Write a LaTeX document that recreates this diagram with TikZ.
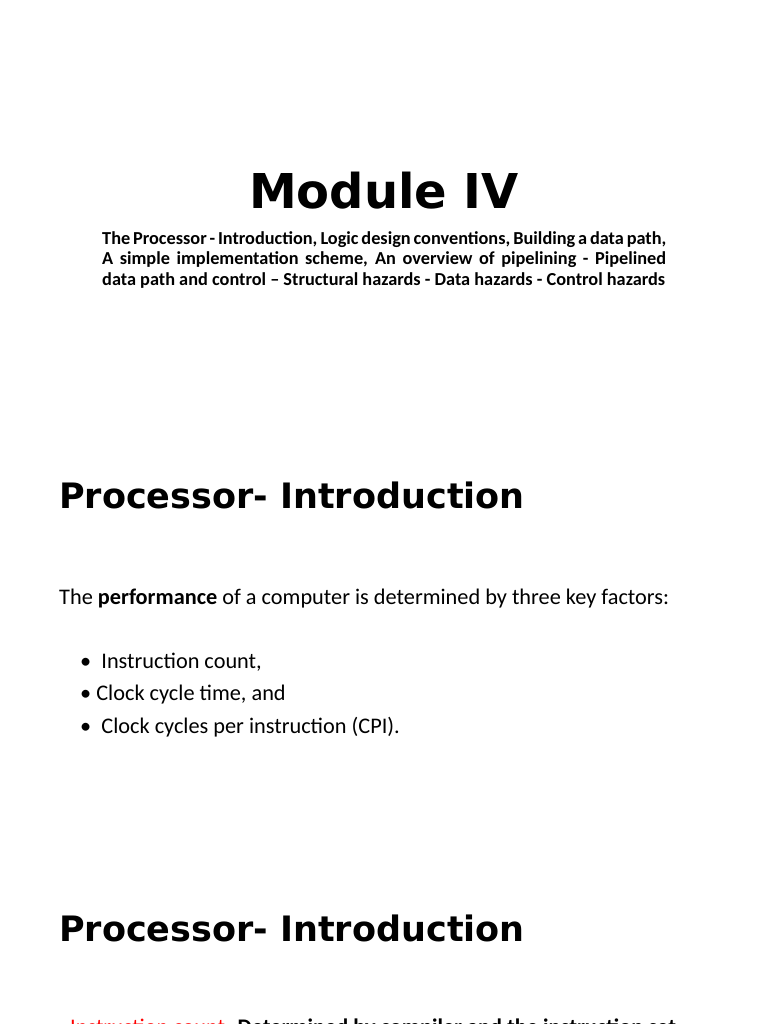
\documentclass[tikz,border=0pt]{standalone}
\usepackage{fontspec}
\setmainfont{Carlito}
\newfontfamily\dejabold{DejaVu Sans}
\begin{document}
\begin{tikzpicture}[x=1pt,y=-1pt,
  ttl/.style={anchor=base west,inner sep=0pt,font=\dejabold\bfseries\fontsize{35}{40}\selectfont},
  body/.style={anchor=base west,inner sep=0pt,font=\fontsize{22.3}{26}\selectfont}]
\fill[white] (0,0) rectangle (768,1024);
\useasboundingbox (0,0) rectangle (768,1024);
\node[anchor=base,inner sep=0pt,font=\dejabold\bfseries\fontsize{48}{56}\selectfont] (m) at (384,209) {Module IV};
\node[anchor=north west,inner sep=0pt,text width=564pt,align=justify,font=\bfseries\fontsize{18.3}{20.6}\selectfont] (p) at (102,231)
 {\hyphenpenalty=10000\exhyphenpenalty=10000 The Processor - Introduction, Logic design conventions, Building a data path, A simple implementation scheme, An overview of pipelining - Pipelined data path and control -- Structural hazards - Data hazards - Control hazards};
\node[ttl] (h1) at (59,508) {Processor- Introduction};
\node[body] (b0) at (59,604) {The \textbf{performance} of a computer is determined by three key factors:};
\node[body] (b1) at (80,668) {\textbullet\ \ Instruction count,};
\node[body] (b2) at (80,700) {\textbullet\ Clock cycle time, and};
\node[body] (b3) at (80,733) {\textbullet\ \ Clock cycles per instruction (CPI).};
\node[ttl] (h2) at (59,941) {Processor- Introduction};
\begin{scope}
\clip (0,0) rectangle (768,1024);
\node[body] (b4) at (70,1034) {\textcolor{red}{Instruction count}: \textbf{Determined by compiler and the instruction set}};
\end{scope}
\end{tikzpicture}
\end{document}
